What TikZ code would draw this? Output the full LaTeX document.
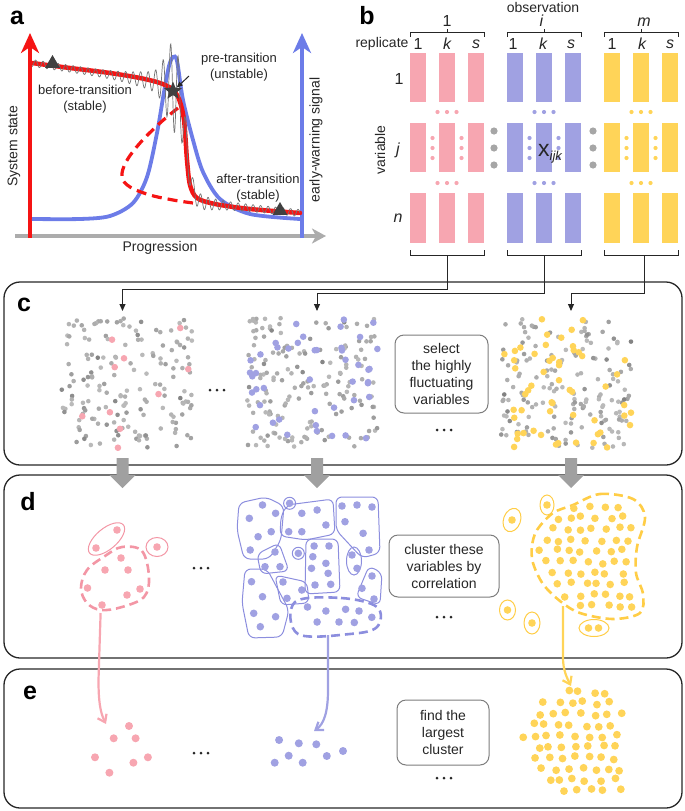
\documentclass[tikz,border=0pt]{standalone}
\usepackage{fontspec}
\setmainfont{Liberation Sans}
\usetikzlibrary{arrows.meta,shapes.geometric}
\definecolor{pinkc}{RGB}{247,166,177}
\definecolor{pinkl}{RGB}{243,150,165}
\definecolor{bluec}{RGB}{160,161,226}
\definecolor{bluel}{RGB}{140,142,222}
\definecolor{yelc}{RGB}{255,212,88}
\definecolor{yell}{RGB}{255,205,70}
\definecolor{redc}{RGB}{245,20,20}
\definecolor{blueax}{RGB}{108,124,232}
\definecolor{grayax}{RGB}{172,172,172}
\definecolor{garr}{RGB}{160,160,160}
\definecolor{markc}{RGB}{64,64,64}
\definecolor{boxg}{RGB}{125,125,125}
\begin{document}
\begin{tikzpicture}[x=1pt,y=-1pt,
  declare function={
    sig(\x)=1/(1+exp(max(-9,min(9,-(\x-186)/3.5))));
    redf(\x)=(63+0.15*(\x-32))*(1-sig(\x))+(183+0.1*\x)*sig(\x);
    ampf(\x)=3.5+34*exp(-min(10,((\x-174)/11)*((\x-174)/11)))+7*exp(-min(10,((\x-170)/40)*((\x-170)/40)));
  },
  panel/.style={draw=black!85, line width=1.3pt, rounded corners=16pt},
  plab/.style={font=\fontsize{25}{25}\selectfont\bfseries, inner sep=0pt},
  atxt/.style={font=\fontsize{13}{15.5}\selectfont, align=center, inner sep=0pt, text=black!85},
  axtxt/.style={font=\fontsize{14}{16}\selectfont, inner sep=0pt, text=black!85},
  btxt/.style={font=\fontsize{14}{16}\selectfont, inner sep=0pt, text=black!85},
  bnum/.style={font=\fontsize{16}{16}\selectfont, inner sep=0pt, text=black!85},
  tbox/.style={draw=boxg, line width=1pt, rounded corners=9pt, align=center, font=\fontsize{14}{17}\selectfont, inner sep=0pt, text=black!85},
  conn/.style={line width=1pt, draw=black!85, -{Triangle[length=7pt,width=6pt]}},
  clus/.style={line width=1pt, rounded corners=6pt},
  dclus/.style={line width=2.6pt, dash pattern=on 9pt off 5pt},
  tri/.style={regular polygon, regular polygon sides=3, fill=markc, minimum size=17pt, inner sep=0pt},
]
\useasboundingbox (0,0) rectangle (685,811);

% ================= panel a =================
\node[plab] (la) at (17,18) {a};
\draw[line width=4.5pt, grayax, -{Stealth[length=14pt,width=15pt,inset=4pt]}] (15,236) -- (326,236);
\draw[line width=4.5pt, redc, -{Stealth[length=20pt,width=18pt,inset=6pt]}] (30,238) -- (30,33);
\draw[line width=4.5pt, blueax, -{Stealth[length=20pt,width=18pt,inset=6pt]}] (302,238) -- (302,33);
\node[axtxt, rotate=90] (sys) at (14,146) {System state};
\node[axtxt, rotate=90] (ews) at (316,140) {early-warning signal};
\node[axtxt] (prog) at (160,248) {Progression};

% blue signal
\draw[blueax, line width=3.8pt] plot[smooth, tension=0.5] coordinates {(32,219) (80,219) (110,216) (133,203) (147,177) (157,133) (164,92) (169,66) (173,57) (177,61) (183,100) (193,140) (203,172) (220,199) (250,214) (300,219)};
% dashed unstable branch
\draw[redc, line width=3.2pt, dash pattern=on 10pt off 6pt] plot[smooth, tension=0.6] coordinates {(178,108) (160,123) (140,143) (126,162) (122,177) (130,187) (150,195) (173,200) (193,203)};
% red state curve
\draw[redc, line width=4.5pt, line cap=round] plot[smooth, tension=0.5] coordinates {(32,63) (70,68) (110,73) (140,78) (160,83) (172,89) (179,99) (184,120) (187,160) (190,185) (197,198) (215,204) (250,209) (300,213)};
% noisy trajectory
\draw[black!55, line width=0.7pt, domain=32:300, samples=700, variable=\t] plot (\t, {redf(\t)+ampf(\t)*sin(\t/7.5*360)});

\node[tri] (t1) at (52.5,63.5) {};
\node[tri] (t2) at (280,210.5) {};
\node[star, star points=5, star point ratio=2.3, fill=markc, minimum size=19pt, inner sep=0pt] (st) at (173,91) {};
\node[atxt] (lb) at (85,99) {before-transition\\(stable)};
\node[atxt] (lp) at (239,67) {pre-transition\\(unstable)};
\node[atxt] (lt) at (258,188) {after-transition\\(stable)};
\coordinate (pa) at (189,76);
\draw[line width=1pt, black!85, -{Triangle[length=6pt,width=5pt]}] (pa) -- (st);

% ================= panel b =================
\node[plab] (lbb) at (367,16) {b};
\node[btxt] (obs) at (543,7) {observation};
\node[bnum] (g1) at (447,21) {1};
\node[bnum] (gi) at (541.5,21) {\itshape i};
\node[bnum] (gm) at (644,22) {\itshape m};
\node[btxt] (rep) at (382,44) {replicate};
\foreach \g/\col in {410/pinkc,507/bluec,604/yelc}{
  \foreach \dx in {0,29,58}{
    \foreach \ya/\yb in {53/102,123/172,193/243}{
      \fill[\col] (\g+\dx,\ya) rectangle (\g+\dx+16,\yb);
    }
  }
  \draw[line width=1pt, black!85] (\g,36.5) -- (\g,32.5) -- (\g+74,32.5) -- (\g+74,36.5);
  \draw[line width=1pt, black!85] (\g+37,32.5) -- (\g+37,28.5);
  \draw[line width=1pt, black!85] (\g,250) -- (\g,255) -- (\g+74,255) -- (\g+74,250);
  \foreach \d in {-9.5,0,9.5}{
    \fill[\col] (\g+37+\d,112) circle (2.1pt);
    \fill[\col] (\g+37+\d,183) circle (2.1pt);
  }
  \foreach \vy in {138,148,158}{
    \fill[\col] (\g+22.5,\vy) circle (2.1pt);
    \fill[\col] (\g+51.5,\vy) circle (2.1pt);
  }
}
\foreach \cx/\lab [count=\n] in {418/1,447/k,476/s,513/1,543/k,571/s,612/1,642/k,670/s}{
  \node[bnum] (cl\n) at (\cx,44) {\ifnum\n=1 1\else\ifnum\n=4 1\else\ifnum\n=7 1\else\itshape\lab\fi\fi\fi};
}
\foreach \gx in {494,593}{
  \foreach \gy in {131,148,165}{
    \fill[black!35] (\gx,\gy) circle (3.6pt);
  }
}
\node[bnum] (r1) at (399,79) {1};
\node[bnum] (rj) at (398,150) {\itshape j};
\node[bnum] (rn) at (398,218) {\itshape n};
\node[btxt, rotate=90] (var) at (380,150) {variable};
\node[inner sep=0pt, text=black!85] (xijk) at (550,154) {\fontsize{23}{23}\selectfont x\raisebox{-4pt}{\fontsize{13}{13}\selectfont\itshape ijk}};

% connectors b -> c
\coordinate (b1) at (447,255);
\coordinate (b2) at (544,255);
\coordinate (b3) at (644,255);
\coordinate (h1) at (122.5,289);
\coordinate (h2) at (317,293.5);
\coordinate (h3) at (571,293.5);
\coordinate (c1) at (122.5,311);
\coordinate (c2) at (317,311);
\coordinate (c3) at (571,311);
\draw[line width=1pt, black!85] (b1) |- (h1);
\draw[line width=1pt, black!85] (b2) |- (h2);
\draw[line width=1pt, black!85] (b3) |- (h3);

% ================= panels c, d, e frames =================
\draw[panel] (4,282) rectangle (682,465);
\draw[panel] (4,475) rectangle (682,658);
\draw[panel] (4,669) rectangle (682,808);
\draw[conn] (h1) -- (c1);
\draw[conn] (h2) -- (c2);
\draw[conn] (h3) -- (c3);
\node[plab] (lc) at (24,305) {c};
\node[plab] (ld) at (28,502) {d};
\node[plab] (le) at (30,693) {e};

% scatter plots
\pgfmathsetseed{4242}
\foreach \xa in {61,247,501}{
  \foreach \i in {1,...,165}{
    \pgfmathsetmacro\xx{\xa+131*rnd}
    \pgfmathsetmacro\yy{318+130*rnd}
    \pgfmathsetmacro\gg{27+24*rnd*rnd}
    \fill[black!\gg] (\xx,\yy) circle (2.3pt);
  }
}
\foreach \i in {1,...,10}{
  \pgfmathsetmacro\xx{61+131*rnd}
  \pgfmathsetmacro\yy{318+130*rnd}
  \fill[pinkc] (\xx,\yy) circle (3.3pt);
}
\foreach \i in {1,...,45}{
  \pgfmathsetmacro\xx{247+131*rnd}
  \pgfmathsetmacro\yy{318+130*rnd}
  \fill[bluec] (\xx,\yy) circle (3.3pt);
}
\foreach \i in {1,...,55}{
  \pgfmathsetmacro\xx{501+131*rnd}
  \pgfmathsetmacro\yy{318+130*rnd}
  \fill[yelc] (\xx,\yy) circle (3.3pt);
}
\node[tbox, minimum width=93pt, minimum height=78pt] (tc) at (441.5,374) {select\\the highly\\fluctuating\\variables};
\node[tbox, minimum width=110pt, minimum height=62pt] (td) at (444,566) {cluster these\\variables by\\correlation};
\node[tbox, minimum width=92pt, minimum height=65pt] (te) at (443,732.5) {find the\\largest\\cluster};
\foreach \px/\py in {217/390,444/430,201/568,444/617,201/753,444/778}{
  \foreach \d in {-7,0,7}{\fill[black!85] (\px+\d,\py) circle (1.5pt);}
}

% gray block arrows c -> d
\foreach \ax in {122.5,317,571}{
  \fill[garr] (\ax-6,458) -- (\ax+6,458) -- (\ax+6,475) -- (\ax+13,475) -- (\ax,488) -- (\ax-13,475) -- (\ax-6,475) -- cycle;
}

% ================= panel d =================
\draw[pinkl, line width=1pt, rotate around={40:(106.5,539)}] (106.5,539) ellipse [x radius=22pt, y radius=10.5pt];
\draw[pinkl, line width=1pt] (157,547) ellipse [x radius=11pt, y radius=9.5pt];
\draw[pinkl, dclus] plot[smooth cycle, tension=0.6] coordinates {(122,547) (142,551) (149,577) (144,597) (122,607) (101,610) (87,603) (81,588) (87,570) (105,556)};
\foreach \p in {(117,530),(96,548),(157,547),(121,558),(105,570),(128,570),(87.5,588),(127,595),(140,589),(102,605)}{
  \fill[pinkc] \p circle (3.8pt);
}
\draw[bluel, clus] (239,503)--(266,497)--(284,506)--(281,540)--(269,559)--(244,559)--(237,530)--cycle;
\draw[bluel, line width=1pt] (289.6,503.3) circle (6pt);
\draw[bluel, clus] (287,505)--(333,499)--(335,534)--(306,540)--(280,536)--(281,516)--cycle;
\draw[bluel, clus] (336,497)--(378,497)--(380,553)--(362,558)--(336,530)--cycle;
\draw[bluel, clus] (257,554)--(279,543)--(289,571)--(261,574)--cycle;
\draw[bluel, line width=1pt] (298.3,553.3) circle (6pt);
\draw[bluel, clus] (306,539)--(338,539)--(340,592)--(305,594)--cycle;
\draw[bluel, line width=1pt] (354,561) ellipse [x radius=7.5pt, y radius=14pt];
\draw[bluel, clus] (245,569)--(267,569)--(289,610)--(282,637)--(249,638)--(242,603)--cycle;
\draw[bluel, clus] (275,575)--(307,582)--(309,603)--(281,605)--cycle;
\draw[bluel, clus] (369,566)--(382,573)--(380,605)--(356,597)--cycle;
\draw[bluel, dclus] plot[smooth cycle, tension=0.6] coordinates {(295,602) (341,598) (377,607) (377,627) (350,634) (298,634)};
\foreach \p in {(262.5,505),(249.3,518.3),(275.6,513.3),(271.2,531.7),(258.1,536.7),(250.2,550),
  (289.6,503.3),(301.8,513.3),(317.1,510),(288.7,531.7),(301.8,531.7),(325.9,525),
  (342,506),(357,505),(372,507),(345,521.7),(363.1,533.3),(369,550),
  (275,552),(265,566.7),(280,566.7),(298.3,553.3),
  (314.1,546),(329,546),(312.8,556.7),(325.9,563.3),(311.5,568.3),(328.1,573.3),(315,585),(330.7,584.3),
  (352,555),(357,568.3),
  (251.5,581.7),(262.5,596.7),(253.7,613.3),(275.6,616.7),(260.3,626.7),
  (283,582),(301.8,590),(287,598.3),
  (372,576),(362,588.3),(374,599),
  (307.5,607),(325.9,611),(345.6,609.3),(359,611),(317.1,622),(339,622),(354.3,622.5),(371.8,617.3)}{
  \fill[bluec] \p circle (3.8pt);
}
\draw[yell, dclus] plot[smooth cycle, tension=0.55] coordinates {(573,505) (600,494) (633,499) (645,517) (637,547) (636,573) (643,594) (640,613) (613,619) (580,613) (560,601) (543,584) (533,563) (532,546) (537,530) (553,513)};
\draw[yell, line width=1pt] (547,505) ellipse [x radius=7pt, y radius=10pt];
\draw[yell, line width=1pt, rotate around={-20:(512,520)}] (512,520) ellipse [x radius=8.5pt, y radius=12pt];
\draw[yell, line width=1pt] (507.5,610) ellipse [x radius=8pt, y radius=10pt];
\draw[yell, line width=1pt] (532,623) ellipse [x radius=8pt, y radius=11pt];
\draw[yell, line width=1pt] (594,628) ellipse [x radius=15pt, y radius=8.5pt];
\foreach \p in {(547,505),(512,520),(507.5,610),(532,623),(588.5,628),(598.5,628)}{
  \fill[yelc] \p circle (3.8pt);
}
\pgfmathsetseed{777}
\foreach \yy/\xs/\nn in {507/576/3,518/556/5,529/552/6,540/546/6,551/541/6,562/547/6,573/553/5,584/558/5,595/565/5,606/580/4}{
  \foreach \k in {0,...,\nn}{
    \fill[yelc] (\xs+13.5*\k+3*rand, \yy+2*rand) circle (3.8pt);
  }
}

% connectors d -> e
\coordinate (pd) at (100.6,613);
\coordinate (pe) at (106,724);
\coordinate (bd) at (328,635);
\coordinate (be) at (314,731);
\coordinate (yd) at (563,606);
\coordinate (ye) at (571,686);
\draw[pinkc, line width=2.2pt, -{Straight Barb[length=7pt,width=10pt]}] (pd) -- (98.5,680) .. controls (98.5,700) and (100,712) .. (pe);
\draw[bluec, line width=2.2pt, -{Straight Barb[length=7pt,width=10pt]}] (bd) -- (328,690) .. controls (328,712) and (324,724) .. (be);
\draw[yelc, line width=2.2pt, -{Straight Barb[length=7pt,width=10pt]}] (yd) -- (563,658) .. controls (563,670) and (567,678) .. (ye);

% ================= panel e =================
\foreach \p in {(129,726),(113.7,738.3),(135.6,738.3),(95,757.3),(133.4,762.7),(147.9,757.3),(109.4,772.7)}{
  \fill[pinkc] \p circle (4pt);
}
\foreach \p in {(279.1,740),(298.8,743.3),(316.3,744.3),(288.7,755.7),(274.7,762.7),(302.7,762.7),(326.8,756),(343,751)}{
  \fill[bluec] \p circle (4pt);
}
\pgfmathsetseed{99}
\foreach \yy/\xs/\nn in {692/567/3,703/545/5,714/541/6,725/532/6,736/523/7,747/537/6,758/536/6,769/542/6,780/548/5,790/566/4}{
  \foreach \k in {0,...,\nn}{
    \fill[yelc] (\xs+13*\k+3*rand, \yy+2*rand) circle (3.9pt);
  }
}
\end{tikzpicture}
\end{document}
